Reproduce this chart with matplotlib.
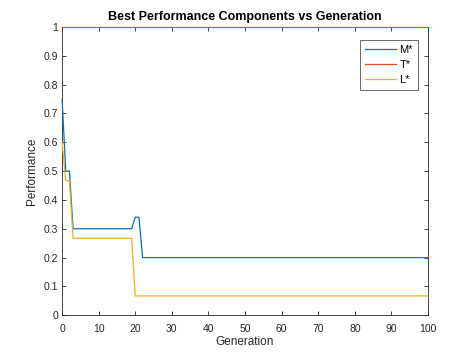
import numpy as np
import matplotlib
matplotlib.use('Agg')
import matplotlib.pyplot as plt

plt.rcParams['font.family'] = ['Liberation Sans', 'DejaVu Sans']

# generations and best performance components
generation = np.arange(0, 101)

m_head = [0.75, 0.5, 0.5] + [0.3] * 17 + [0.34, 0.34]
m_star = m_head + [0.2] * (101 - len(m_head))

t_star = [1.0] * 101

l_head = [0.6, 0.467, 0.467] + [0.267] * 17
l_star = l_head + [0.067] * (101 - len(l_head))

series_names = ['M*', 'T*', 'L*']
series_colors = ['#0072BD', '#D95319', '#EDB120']

fig = plt.figure(figsize=(4.74, 3.55), dpi=100)
ax = fig.add_axes([0.131, 0.112, 0.772, 0.812])

for ys, name, col in zip([m_star, t_star, l_star], series_names, series_colors):
    ax.plot(generation, ys, color=col, linewidth=0.9, label=name,
            clip_on=False, zorder=3)

ax.set_xlim(0, 100)
ax.set_ylim(0, 1)
ax.set_xticks(np.arange(0, 101, 10))
ax.set_yticks(np.arange(0, 1.01, 0.1))
ax.set_yticklabels(['0', '0.1', '0.2', '0.3', '0.4', '0.5', '0.6', '0.7', '0.8', '0.9', '1'])

ax.tick_params(direction='in', top=True, right=True, labelsize=7.5,
               colors='#262626', length=3, width=0.6)
ax.tick_params(axis='x', pad=6)
ax.tick_params(axis='y', pad=3)
for s in ax.spines.values():
    s.set_color('#262626')
    s.set_linewidth(0.6)

ax.set_xlabel('Generation', fontsize=8.5, color='#262626', labelpad=2)
ax.set_ylabel('Performance', fontsize=8.5, color='#262626', labelpad=4)
ax.set_title('Best Performance Components vs Generation', fontsize=9,
             fontweight='bold', color='black', pad=5)

leg = ax.legend(loc='upper right', fontsize=8, frameon=True, fancybox=False,
                edgecolor='#262626', handlelength=2.8, borderpad=0.45,
                labelspacing=0.45, handletextpad=0.3,
                bbox_to_anchor=(0.988, 0.975))
leg.get_frame().set_linewidth(0.6)
leg.set_zorder(5)

fig.savefig('out.png', dpi=100)
